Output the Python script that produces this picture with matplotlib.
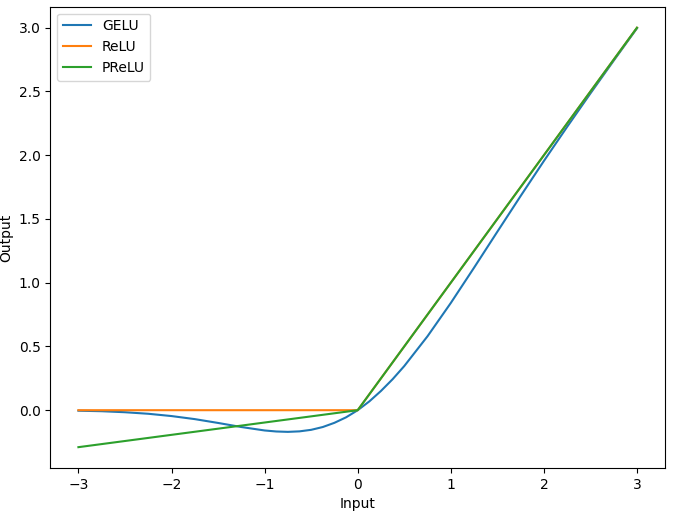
import matplotlib
matplotlib.use("Agg")
import matplotlib.pyplot as plt

# values
gelu_x = [-3.0, -2.75, -2.5, -2.25, -2.0, -1.75, -1.5, -1.25, -1.0, -0.875, -0.75, -0.625,
          -0.5, -0.375, -0.25, -0.125, 0.0, 0.125, 0.25, 0.375, 0.5, 0.75, 1.0, 1.25, 1.5, 1.75,
          2.0, 2.25, 2.5, 2.75, 3.0]
gelu_y = [-0.004, -0.008, -0.016, -0.028, -0.046, -0.070, -0.100, -0.132, -0.159, -0.167, -0.170, -0.166,
          -0.154, -0.132, -0.099, -0.056, 0.0, 0.069, 0.151, 0.243, 0.346, 0.580, 0.841, 1.118, 1.400, 1.680,
          1.955, 2.223, 2.485, 2.742, 2.996]
relu_x = [-3.0, 0.0, 3.0]
relu_y = [0.0, 0.0, 3.0]
prelu_x = [-3.0, 0.0, 3.0]
prelu_y = [-0.29, 0.0, 3.0]

fig, ax = plt.subplots(figsize=(6.73, 5.19), dpi=100)
ax.plot(gelu_x, gelu_y, label="GELU")
ax.plot(relu_x, relu_y, label="ReLU")
ax.plot(prelu_x, prelu_y, label="PReLU")
ax.set_xlabel("Input")
ax.set_ylabel("Output")
ax.legend(loc="upper left")
fig.subplots_adjust(left=0.075, right=0.988, top=0.987, bottom=0.098)
fig.savefig("out.png")
